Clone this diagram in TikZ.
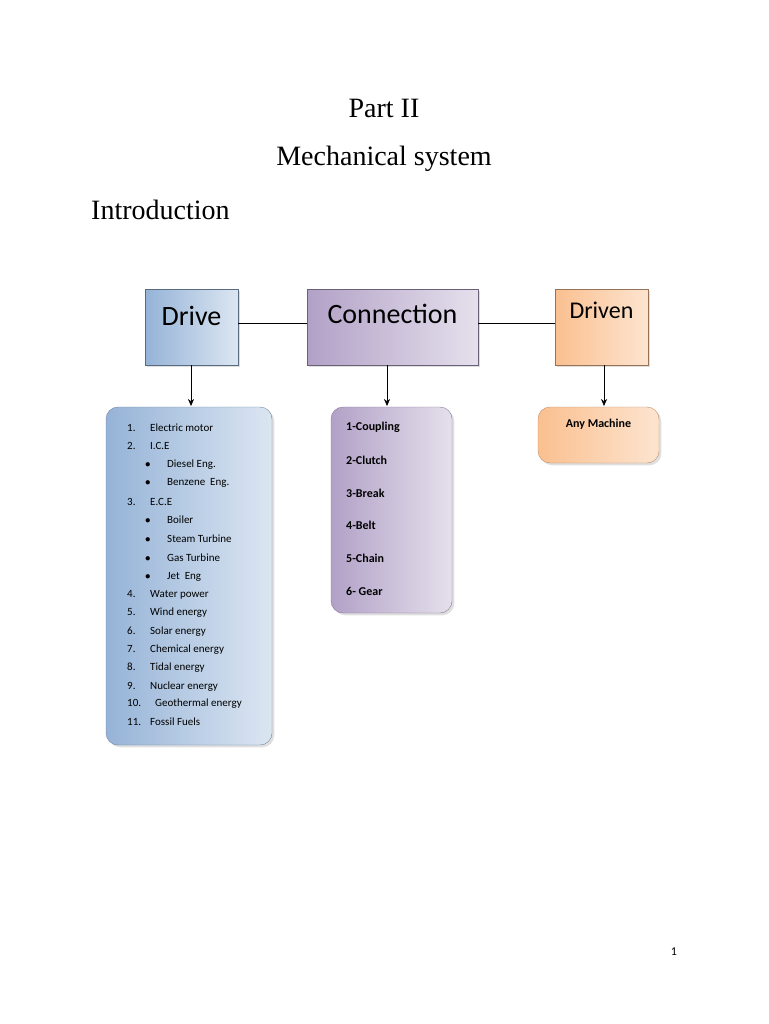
\documentclass[tikz,border=0pt]{standalone}
\usepackage{fontspec}
\setmainfont{Liberation Serif}
\newfontfamily\boxfont{Carlito}
\usetikzlibrary{positioning,shadows,arrows.meta}
\definecolor{driveblue}{RGB}{149,179,215}
\definecolor{drivelight}{RGB}{220,230,242}
\definecolor{connviolet}{RGB}{178,161,199}
\definecolor{connlight}{RGB}{229,224,236}
\definecolor{drivenorange}{RGB}{250,192,144}
\definecolor{drivenlight}{RGB}{253,228,208}
\tikzset{
  head/.style={draw=#1!60!black, drop shadow={opacity=0.25}, minimum height=76pt},
  listbox/.style={draw=#1!75!black, rounded corners=12pt, drop shadow={opacity=0.25}},
  item/.style={anchor=west, font=\boxfont\fontsize{11}{12}\selectfont, inner sep=0pt},
  title/.style={font=\fontsize{28}{30}\selectfont},
  link/.style={-{Stealth[length=7pt,width=6pt]}}
}
\begin{document}
\begin{tikzpicture}[x=1pt,y=-1pt]
\useasboundingbox (0,0) rectangle (768,1024);
% titles
\node[title] (part) at (384,108) {Part II};
\node[title] (mech) at (384,159) {Mechanical system};
\node[title, anchor=west, inner sep=0pt] (intro) at (91,210) {Introduction};
% heading boxes
\node[head=driveblue, minimum width=93pt, left color=driveblue, right color=drivelight] (drive) at (191.5,327) {};
\node[font=\boxfont\fontsize{28}{30}\selectfont] (drivetext) at (191.5,316) {Drive};
\node[head=connviolet, minimum width=171pt, left color=connviolet, right color=connlight] (conn) at (392.5,327) {};
\node[font=\boxfont\fontsize{28}{30}\selectfont] (conntext) at (392.5,314) {Connection};
\node[head=drivenorange, minimum width=93pt, left color=drivenorange, right color=drivenlight] (driven) at (601.5,327) {};
\node[font=\boxfont\fontsize{24}{26}\selectfont] (driventext) at (601.5,310) {Driven};
\draw (drive.east |- 0,323) -- (conn.west |- 0,323);
\draw (conn.east |- 0,323) -- (driven.west |- 0,323);
% list boxes
\node[listbox=driveblue, minimum width=166pt, minimum height=338pt, left color=driveblue, right color=drivelight] (drivelist) at (189,576) {};
\node[listbox=connviolet, minimum width=121pt, minimum height=206pt, left color=connviolet, right color=connlight] (connlist) at (391.5,510) {};
\node[listbox=drivenorange, minimum width=121pt, minimum height=56pt, left color=drivenorange, right color=drivenlight] (drivenlist) at (598.5,435) {};
\draw[link] (drive.south -| 191,0) -- (191,406) coordinate (c0);
\draw[link] (conn.south -| 387,0) -- (387,406) coordinate (c1);
\draw[link] (driven.south -| 604,0) -- (604,406) coordinate (c2);
% drive list
\foreach \y/\n/\t [count=\i] in {428/1./Electric motor, 446/2./I.C.E, 502/3./E.C.E, 595/4./Water power, 613/5./Wind energy, 632/6./Solar energy, 650/7./Chemical energy, 668/8./Tidal energy, 687/9./Nuclear energy, 704/10./{\ \ Geothermal energy}, 722/11./Fossil Fuels}
  \node[item] (dn\i) at (127,\y) {\makebox[23pt][l]{\n}\t};
\foreach \y/\t [count=\i] in {465/Diesel Eng., 483/Benzene\ \ Eng., 520/Boiler, 539/Steam Turbine, 558/Gas Turbine, 577/Jet\ \ Eng}
  \node[item] (db\i) at (145,\y) {\makebox[22pt][l]{$\bullet$}\t};
% connection list
\foreach \y/\t [count=\i] in {427/1-Coupling, 460/2-Clutch, 493/3-Break, 525/4-Belt, 558/5-Chain, 591/6- Gear}
  \node[item, font=\boxfont\bfseries\fontsize{12}{13}\selectfont] (cl\i) at (346,\y) {\t};
\node[font=\boxfont\bfseries\fontsize{12}{13}\selectfont] (machine) at (598.5,424) {Any Machine};
\node[font=\boxfont\fontsize{12}{13}\selectfont] (page) at (674,952) {1};
\end{tikzpicture}
\end{document}
